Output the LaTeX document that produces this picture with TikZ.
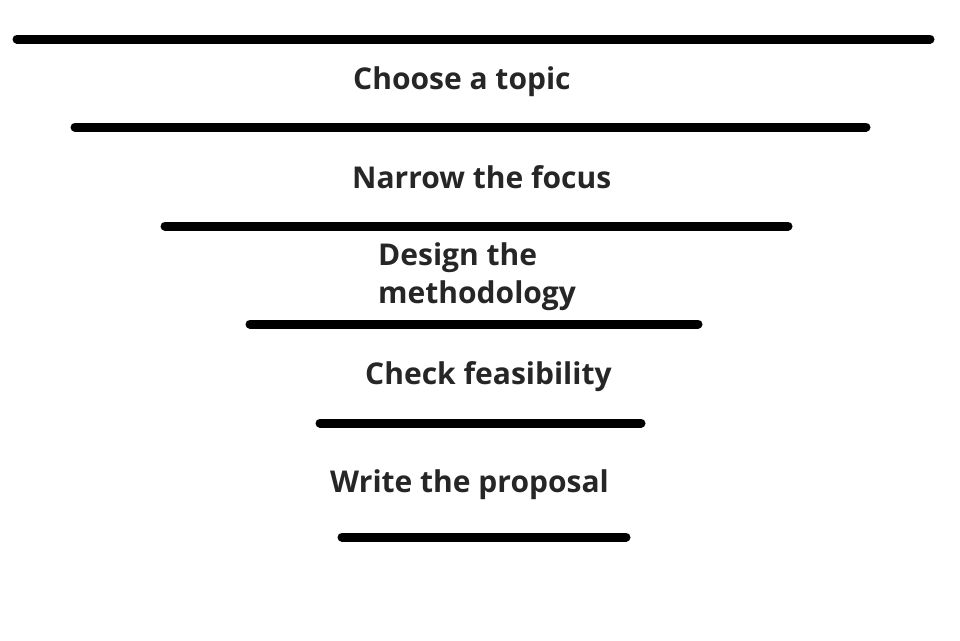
\documentclass[tikz,border=0pt]{standalone}
\usepackage{fontspec}
\setmainfont{Open Sans}
\begin{document}
\begin{tikzpicture}[x=1pt,y=-1pt,
  bar/.style={line width=9pt,line cap=round},
  lbl/.style={anchor=west,inner sep=0pt,font=\fontsize{30}{38}\selectfont\bfseries,text=black!85,align=left}]
\useasboundingbox (0,0) rectangle (960,640);
\draw[bar] (17,39) -- (930,39);
\draw[bar] (75,127) -- (866,127);
\draw[bar] (165,226) -- (788,226);
\draw[bar] (250,324) -- (698,324);
\draw[bar] (320,423) -- (641,423);
\draw[bar] (342,537) -- (626,537);
\node[lbl] (t1) at (353,82) {Choose a topic};
\node[lbl] (t2) at (352,177) {Narrow the focus};
\node[lbl] (t3a) at (378,258) {Design the};
\node[lbl] (t3b) at (378,296) {methodology};
\node[lbl] (t4) at (365,377) {Check feasibility};
\node[lbl] (t5) at (330,485) {Write the proposal};
\end{tikzpicture}
\end{document}
